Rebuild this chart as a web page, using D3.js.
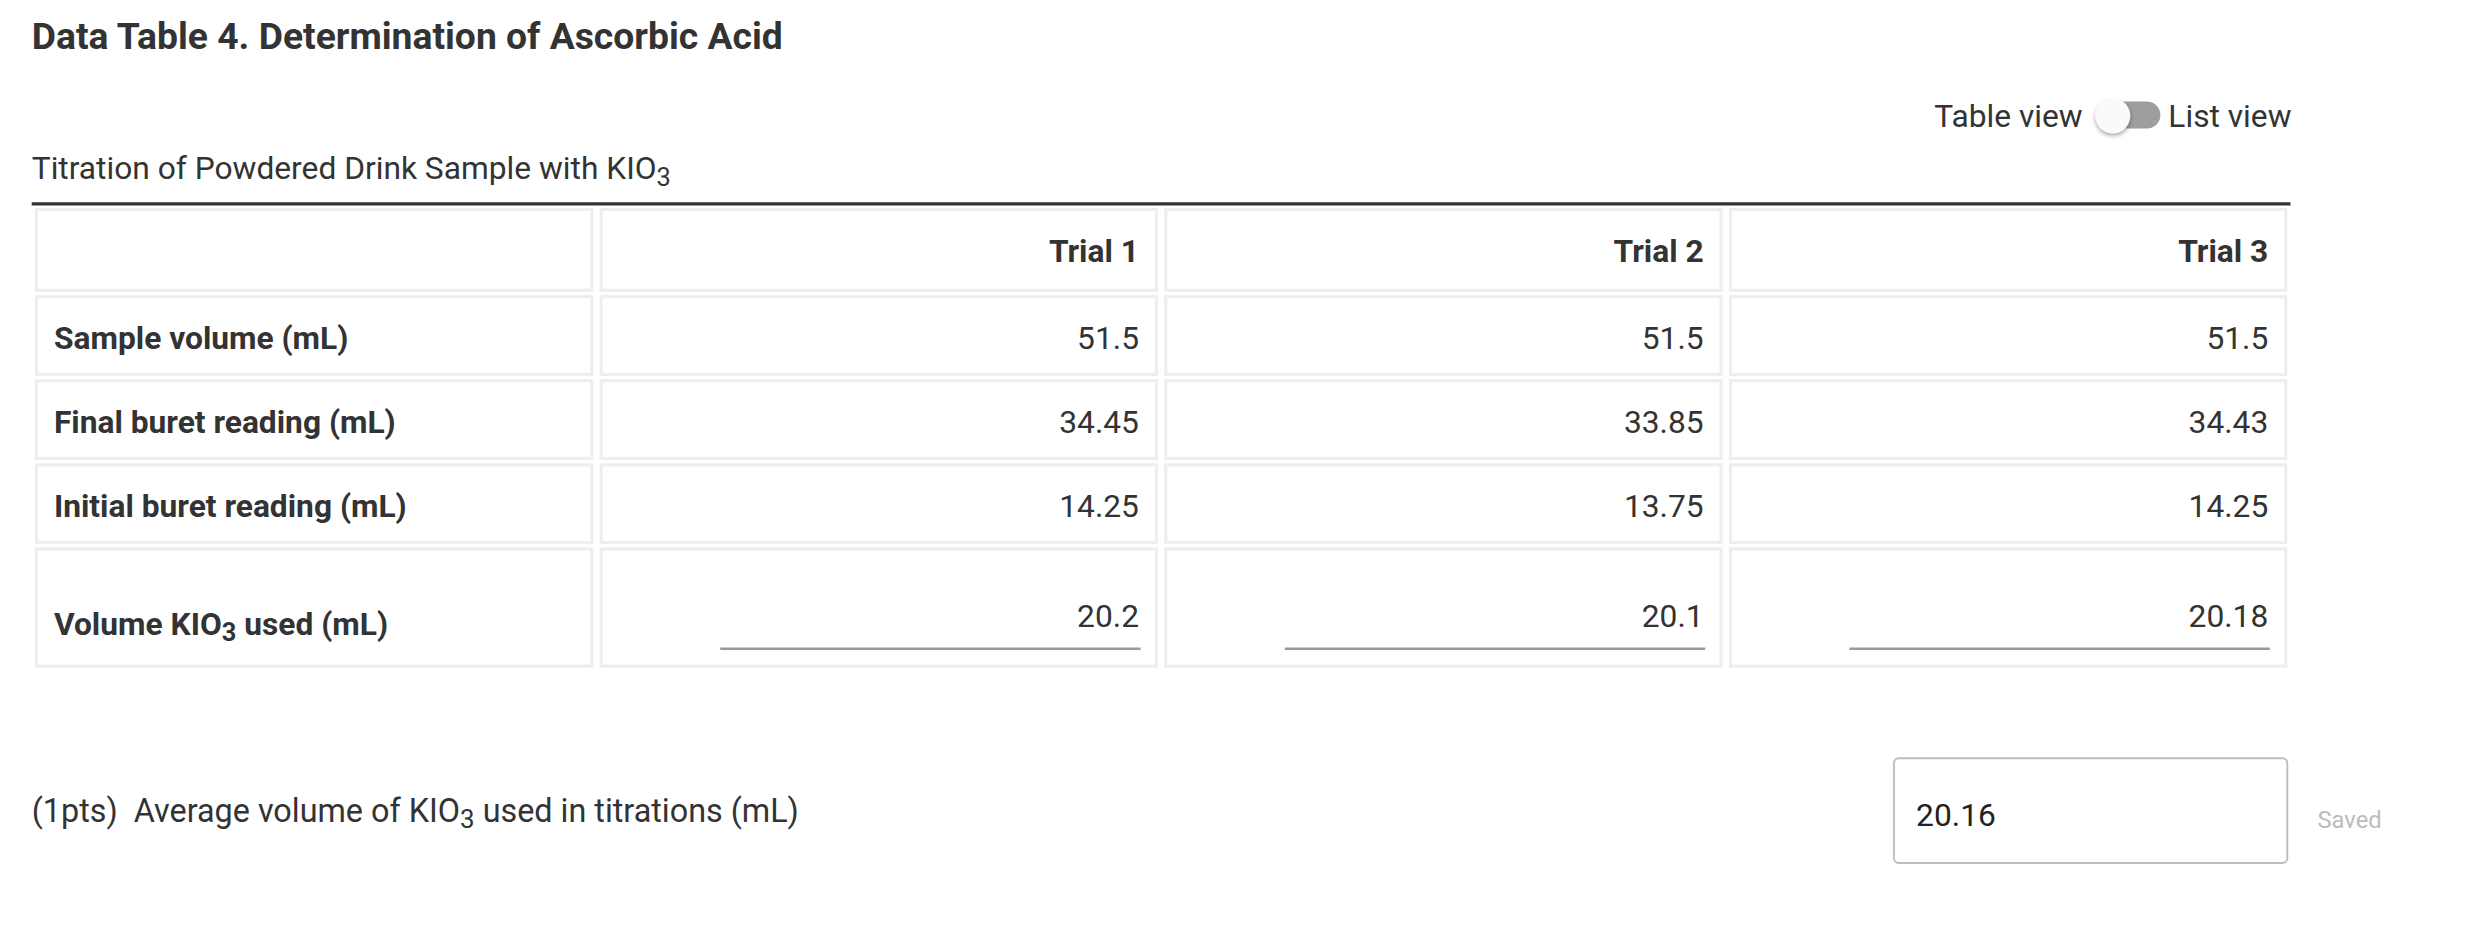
<!DOCTYPE html>
<html><head><meta charset="utf-8">
<script src="https://cdn.jsdelivr.net/npm/d3@7"></script>
<style>body{margin:0;background:#fff}svg{display:block;font-family:Roboto,sans-serif}</style>
</head><body><svg id="c" width="2484" height="928" viewBox="0 0 1566 585"></svg>
<script>
const trials = ["Trial 1","Trial 2","Trial 3"];
const rowLabels = [["Sample volume (mL)"],["Final buret reading (mL)"],["Initial buret reading (mL)"],["Volume KIO","3"," used (mL)"]];
const sampleVolume = ["51.5","51.5","51.5"];
const finalReading = ["34.45","33.85","34.43"];
const initialReading = ["14.25","13.75","14.25"];
const volumeUsed = ["20.2","20.1","20.18"];
const averageVolume = "20.16";
const rows = [sampleVolume, finalReading, initialReading, volumeUsed];

const svg = d3.select("#c");
const ink = "#333";
const FS = 20;
function sub(t, parts, size){
  parts.forEach((p,i)=>{
    if(i%2===1) t.append("tspan").attr("dy",4).attr("font-size",size*0.8).text(p);
    else t.append("tspan").attr("dy", i>0?-4:0).text(p);
  });
}
svg.append("text").attr("x",20).attr("y",31).attr("font-size",23.5).attr("font-weight",700).attr("fill",ink)
  .text("Data Table 4. Determination of Ascorbic Acid");
svg.append("text").attr("x",1313).attr("y",80).attr("text-anchor","end").attr("font-size",FS).attr("fill",ink).text("Table view");
svg.append("text").attr("x",1367).attr("y",80).attr("font-size",FS).attr("fill",ink).text("List view");
svg.append("rect").attr("x",1325).attr("y",64).attr("width",37).attr("height",17).attr("rx",8.5).attr("fill","#9e9e9e");
const defs = svg.append("defs");
const f = defs.append("filter").attr("id","sh").attr("x","-50%").attr("y","-50%").attr("width","200%").attr("height","200%");
f.append("feDropShadow").attr("dx",0).attr("dy",1.5).attr("stdDeviation",1.5).attr("flood-color","#000").attr("flood-opacity",0.35);
svg.append("circle").attr("cx",1332).attr("cy",73).attr("r",11).attr("fill","#fafafa").attr("filter","url(#sh)");

sub(svg.append("text").attr("x",20).attr("y",113).attr("font-size",FS).attr("fill",ink), ["Titration of Powdered Drink Sample with KIO","3",""],FS);
svg.append("line").attr("x1",20).attr("x2",1444).attr("y1",128.5).attr("y2",128.5).attr("stroke",ink).attr("stroke-width",2);

const x = d3.scaleBand().domain(["label",...trials]).range([22,1442]).paddingInner(0.011);
const rowTops = [132,187,240,293,346], rowH = [51,49,49,49,74];
const cols = ["label",...trials];
rowTops.forEach((top,r)=>{
  cols.forEach(c=>{
    svg.append("rect").attr("x",x(c)+1).attr("y",top).attr("width",x.bandwidth()-2).attr("height",rowH[r])
      .attr("fill","#fff").attr("stroke","#eeeeea").attr("stroke-width",2);
  });
});
trials.forEach(t=>{
  svg.append("text").attr("x",x(t)+x.bandwidth()-12).attr("y",165).attr("text-anchor","end")
    .attr("font-size",FS).attr("font-weight",700).attr("fill",ink).text(t);
});
const baseY = [220,273,326,395];
rows.forEach((vals,r)=>{
  const lbl = svg.append("text").attr("x",34).attr("y", r===3?400:baseY[r]).attr("font-size",FS).attr("font-weight",700).attr("fill",ink);
  sub(lbl, rowLabels[r], FS);
  vals.forEach((v,i)=>{
    const rx = x(trials[i])+x.bandwidth()-12;
    svg.append("text").attr("x",rx).attr("y",baseY[r]).attr("text-anchor","end").attr("font-size",FS).attr("fill",ink).text(v);
    if(r===3) svg.append("line").attr("x1",rx-264).attr("x2",rx+1).attr("y1",409).attr("y2",409).attr("stroke","#999").attr("stroke-width",1.5);
  });
});
sub(svg.append("text").attr("x",20).attr("y",518).attr("font-size",20.4).attr("fill",ink).attr("xml:space","preserve"),
  ["(1pts)  Average volume of KIO","3"," used in titrations (mL)"],20.4);
svg.append("rect").attr("x",1194).attr("y",478).attr("width",248).attr("height",66).attr("rx",3)
  .attr("fill","#fff").attr("stroke","#bdbdbd").attr("stroke-width",1.2);
svg.append("text").attr("x",1208).attr("y",521).attr("font-size",FS).attr("fill","#222").text(averageVolume);
svg.append("text").attr("x",1461).attr("y",522).attr("font-size",15).attr("fill","#bbb").text("Saved");
</script></body></html>
